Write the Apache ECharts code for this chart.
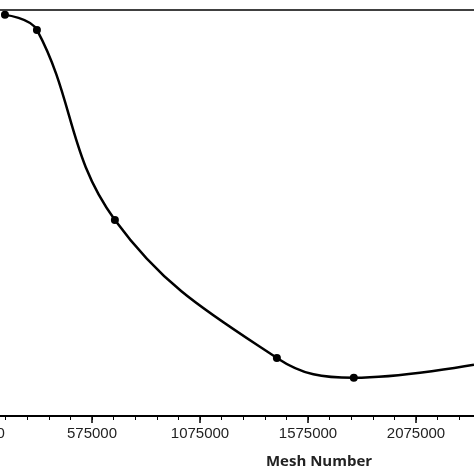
<!DOCTYPE html><html><head><meta charset="utf-8"><script src="https://cdn.jsdelivr.net/npm/echarts@6/dist/echarts.min.js"></script></head><body style="margin:0;overflow:hidden"><div id="c" style="width:474px;height:474px"></div><script>
const meshX = [172000, 320000, 681000, 1431000, 1787000];
const values = [98.8, 95.1, 48.3, 14.3, 9.4];
const tailX = 2343500, tailY = 12.6;
const majorTicks = [75000, 575000, 1075000, 1575000, 2075000];
const minorTicks = [];
for (let v = 75000; v <= 2343500; v += 100000) minorTicks.push(v);
const pts = meshX.map((x,i)=>[x,values[i]]);
const chart = echarts.init(document.getElementById('c'));
chart.setOption({
  animation:false,
  grid:{left:-16,right:0,top:10,bottom:58,containLabel:false,outerBoundsMode:'none'},
  xAxis:[{type:'value',min:75000,max:2343500,position:'bottom',
    name:'Mesh Number',nameLocation:'middle',nameGap:38,
    nameTextStyle:{fontFamily:'Open Sans',fontWeight:'bold',fontSize:15,color:'#222',padding:[0,0,0,180]},
    axisLine:{lineStyle:{color:'#000',width:2}},
    axisTick:{customValues:majorTicks,length:7,inside:false,lineStyle:{color:'#000',width:1.5}},
    axisLabel:{customValues:majorTicks,formatter:v=>String(v),fontFamily:'Liberation Sans',fontSize:15,color:'#222',margin:10},
    splitLine:{show:false}},
   {type:'value',min:75000,max:2343500,position:'bottom',
    axisLine:{show:false},axisLabel:{show:false},splitLine:{show:false},
    axisTick:{customValues:minorTicks,length:4,lineStyle:{color:'#000'}}},
   {type:'value',min:75000,max:2343500,position:'top',
    axisLine:{lineStyle:{color:'#000',width:1.5}},axisLabel:{show:false},axisTick:{show:false},splitLine:{show:false}}],
  yAxis:{type:'value',min:0,max:100,show:false},
  series:[{type:'line',data:pts.concat([[tailX,tailY]]),smooth:0.4,symbol:'circle',symbolSize:(v,p)=>p.dataIndex<meshX.length?8:0,
    itemStyle:{color:'#000'},lineStyle:{color:'#000',width:2.5}}]
});
</script></body></html>
